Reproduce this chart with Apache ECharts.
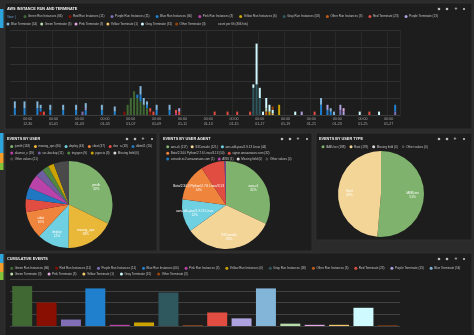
<!DOCTYPE html>
<html><head><meta charset="utf-8">
<script src="https://cdn.jsdelivr.net/npm/echarts@6/dist/echarts.min.js"></script>
<style>html,body{margin:0;padding:0;background:#2b2b2b;}#c{width:474px;height:335px;}</style>
</head><body><div id="c"></div><script>
// ---------------- DATA ----------------
const seriesNames = ['Green Run Instances','Red Run Instances','Purple Run Instances','Blue Run Instances','Pink Run Instances','Yellow Run Instances','Gray Run Instances','Other Run Instances','Red Terminate','Purple Terminate','Blue Terminate','Green Terminate','Pink Terminate','Yellow Terminate','Gray Terminate','Other Terminate'];
const seriesHits = [66,11,11,60,3,6,58,3,23,13,54,3,3,1,31,3];
const totalHits = 366;
const bucketHours = 6;
const bucketCount = 121;
const startTime = '2014-12-28T18:00:00Z';
// histogram counts per 6h bucket: [bucketIndex, count]
const greenRun = [[36,6],[37,10],[38,14],[39,10],[40,8],[41,6],[42,4]];
const redRun = [[9,2],[35,2],[43,2]];
const purpleRun = [[22,2],[102,3],[119,2]];
const blueRun = [[1,4],[4,4],[8,4],[9,2],[12,3],[16,3],[20,3],[23,3],[28,3],[32,2],[39,2],[40,4],[42,2],[45,3],[49,3],[96,6],[98,3],[99,2],[119,4]];
const pinkRun = [[51,1]];
const yellowRun = [[80,2],[83,6]];
const grayRun = [[75,16],[76,18],[77,10]];
const otherRun = [[79,2]];
const redTerm = [[10,2],[43,2],[44,2],[51,2],[52,2],[63,2],[67,2],[70,2],[74,2],[94,2],[111,2]];
const purpleTerm = [[23,1],[52,2],[90,2],[98,3],[102,3],[103,2]];
const blueTerm = [[1,4],[4,4],[8,4],[9,2],[12,3],[16,3],[20,3],[23,3],[28,3],[32,3],[40,5],[41,4],[42,2],[45,3],[49,3],[96,4],[99,2],[100,2]];
const greenTerm = [[79,2]];
const pinkTerm = [[103,2]];
const yellowTerm = [[81,1]];
const grayTerm = [[75,2],[76,24],[77,6],[78,2],[79,6],[80,4],[81,2],[88,2],[108,2],[114,2]];
const otherTerm = [[81,2]];
const histData = [greenRun,redRun,purpleRun,blueRun,pinkRun,yellowRun,grayRun,otherRun,redTerm,purpleTerm,blueTerm,greenTerm,pinkTerm,yellowTerm,grayTerm,otherTerm];
// cumulative events (bottom panel)
const cumulative = [68,40,11,64,2,6,57,1,23,13,64,4,2,2,31,1];
// pies
const userNames = ['jsmith','mwang_ops','deploy','cibot','rlee_a','dkim01','akumar_x','svc-backup','tnguyen','pgarcia','Missing field','Other values'];
const userCounts = [118,66,43,37,18,16,19,11,9,8,0,21];
const agentNames = ['aws-cli','S3Console','aws-sdk-java/1.9.13 Linux','Boto/2.34.0 Python/2.7.6 Linux/3.13','signin.amazonaws.com','console.ec2.amazonaws.com','AWS','Missing field','Other values'];
const agentCounts = [117,121,44,50,32,1,1,0,0];
const typeNames = ['IAMUser','Root','Missing field','Other values'];
const typeCounts = [188,178,0,0];

// ---------------- STYLE ----------------
const seriesColors = ['#3F6833','#890F02','#806EB7','#2080CE','#BA43A9','#CCA300','#2F575E','#C15C17','#E24D42','#AEA2E0','#82B5D8','#B7DBAB','#E5A8E2','#F2C96D','#CFFAFF','#99440A'];
const pie1Colors = ['#7EB26D','#EAB839','#6ED0E0','#EF843C','#E24D42','#1F78C1','#BA43A9','#705DA0','#508642','#CCA300','#D8D8D8','#4A4A4A'];
const pie2Colors = ['#7EB26D','#F4D598','#6ED0E0','#EF843C','#E24D42','#1F78C1','#BA43A9','#D8D8D8','#4A4A4A'];
const pie3Colors = ['#7EB26D','#F4D598','#D8D8D8','#4A4A4A'];
const FONT = 'Liberation Sans, Arial, sans-serif';
const panelFill = '#1d1d1d', panelStroke = '#343434';

// ---------------- BUILD ----------------
const pad = n => String(n).padStart(2,'0');
const categories = [];
for (let i = 0; i < bucketCount; i++) {
  const d = new Date(Date.parse(startTime) + i * bucketHours * 3600e3);
  categories.push(pad(d.getUTCMonth()+1) + '-' + pad(d.getUTCDate()) + ' ' + pad(d.getUTCHours()) + ':00');
}
const isTick = (idx) => categories[idx].slice(6) === '00:00' && (idx - 5) % 8 === 0;
function dense(pairs) { const a = new Array(bucketCount).fill(0); pairs.forEach(([i,v]) => { a[i] = v; }); return a; }

const hitMap = Object.fromEntries(seriesNames.map((n,i)=>[n,seriesHits[i]]));
function legendRow(names, left, top, fmt, gap) {
  return { show:true, left:left, top:top, data:names, orient:'horizontal', icon:'circle',
    itemWidth:3, itemHeight:3, itemGap:gap, padding:0, selectedMode:false, formatter:fmt,
    textStyle:{fontSize:3, color:'#c4c4c4', fontFamily:FONT, padding:[0,0,0,-3.5]} };
}
const seriesFmt = n => n + ' (' + hitMap[n] + ')';
function mapFmt(names, counts) { const m = Object.fromEntries(names.map((n,i)=>[n,counts[i]])); return n => n + ' (' + m[n] + ')'; }

function pieSeries(names, counts, colors, cx, cy, r) {
  const data = names.map((n,i)=>({name:n, value:counts[i], itemStyle:{color:colors[i]}}));
  return [
    { type:'pie', center:[cx,cy], radius:r, startAngle:90, clockwise:true, data:data,
      label:{show:false}, labelLine:{show:false}, silent:true, percentPrecision:2 },
    { type:'pie', center:[cx,cy], radius:r*4/3, startAngle:90, clockwise:true, silent:true,
      data:names.map((n,i)=>({name:n, value:counts[i]})),
      itemStyle:{color:'rgba(0,0,0,0)'}, labelLine:{show:false},
      label:{show:true, position:'inside', color:'#ffffff', fontSize:3.2, lineHeight:4, fontFamily:FONT,
        formatter: p => p.percent >= 10 ? p.name + '\n' + Math.round(p.percent) + '%' : ''} }
  ];
}

const histSeries = histData.map((pairs,i)=>({
  type:'bar', name:seriesNames[i], stack:'hist', xAxisIndex:0, yAxisIndex:0,
  data:dense(pairs), barWidth:2, itemStyle:{color:seriesColors[i]}, silent:true
}));
const cumSeries = { type:'bar', name:'Cumulative Events', xAxisIndex:1, yAxisIndex:1, barWidth:'82%', silent:true,
  data:cumulative.map((v,i)=>({value:v, itemStyle:{color:seriesColors[i]}})) };

// graphic: panels, strips, titles, icons
const g = [];
function panel(x,y,w,h){ g.push({type:'rect', z:-10, shape:{x,y,width:w,height:h}, style:{fill:panelFill, stroke:panelStroke, lineWidth:0.8}}); }
panel(5,3,467,126); panel(5,133,152,118); panel(159,133,153,118); panel(316,133,156,107); panel(5,253,467,84);
function strip(y,h,c){ g.push({type:'rect', z:-9, shape:{x:0,y,width:3.5,height:h}, style:{fill:c}}); }
strip(9,19,'#2da4dc');
strip(133,20,'#2da4dc'); strip(153,10,'#f39c2b'); strip(163,7,'#84c13a');
strip(254,9,'#2da4dc'); strip(263,9,'#f39c2b'); strip(272,8,'#84c13a');
function title(x,y,t){ g.push({type:'text', z:5, x, y, style:{text:t, fill:'#f0f0f0', font:'bold 3.8px '+FONT, textVerticalAlign:'middle'}}); }
title(7,9,'AWS INSTANCE RUN AND TERMINATE'); title(7,139,'EVENTS BY USER'); title(163,139,'EVENTS BY USER AGENT');
title(319,139,'EVENTS BY USER TYPE'); title(7,259,'CUMULATIVE EVENTS');
function icons(xs,y){
  g.push({type:'circle', z:5, shape:{cx:xs[0],cy:y,r:1.3}, style:{fill:'#bdbdbd'}});
  g.push({type:'circle', z:5, shape:{cx:xs[1],cy:y,r:1.3}, style:{fill:'#bdbdbd'}});
  g.push({type:'text', z:5, x:xs[2], y:y, style:{text:'+', fill:'#cfcfcf', font:'bold 5px '+FONT, textAlign:'center', textVerticalAlign:'middle'}});
  g.push({type:'circle', z:5, shape:{cx:xs[3],cy:y,r:1}, style:{fill:'#cfcfcf'}});
}
icons([439,447,456,464],9); icons([127,135,143,152],139); icons([282,290,298,307],139);
icons([439,447,455,464],139); icons([439,447,456,464],259);
g.push({type:'text', z:5, x:7, y:16.7, style:{text:'View  |', fill:'#6aa8dc', font:'3px '+FONT, textVerticalAlign:'middle'}});
g.push({type:'text', z:5, x:218, y:24, style:{text:'count per ' + bucketHours + 'h (' + totalHits + ' hits)', fill:'#c4c4c4', font:'3px '+FONT, textVerticalAlign:'middle'}});

const option = {
  backgroundColor:'#2b2b2b', animation:false,
  graphic:{elements:g},
  grid:[
    {left:10, right:74, top:30, height:85, containLabel:false},
    {left:10, right:74, top:279, height:47, containLabel:false}
  ],
  xAxis:[
    {type:'category', gridIndex:0, data:categories, boundaryGap:true,
      axisTick:{show:false}, axisLine:{lineStyle:{color:'#3c3c3c', width:0.8}},
      axisLabel:{interval:isTick, formatter:v => '00:00\n' + v.slice(0,5), fontSize:3.6, lineHeight:5, color:'#a8a8a8', margin:1.5, fontFamily:FONT},
      splitLine:{show:true, interval:isTick, lineStyle:{color:'#2c2c2c', width:0.8}}},
    {type:'category', gridIndex:1, data:seriesNames, axisTick:{show:false}, axisLabel:{show:false},
      axisLine:{show:false}}
  ],
  yAxis:[
    {type:'value', gridIndex:0, min:0, max:50, interval:10, axisLabel:{show:false}, axisLine:{show:false}, axisTick:{show:false},
      splitLine:{lineStyle:{color:'#363636', width:0.8}}},
    {type:'value', gridIndex:1, min:0, max:80, interval:20, axisLabel:{show:false}, axisLine:{show:false}, axisTick:{show:false},
      splitLine:{lineStyle:{color:'#4a4a4a', width:0.8}}}
  ],
  legend:[
    legendRow(seriesNames.slice(0,10), 23.5, 15.1, seriesFmt, 6.0),
    legendRow(seriesNames.slice(10), 6.5, 22.4, seriesFmt, 3.0),
    legendRow(seriesNames.slice(0,11), 10.2, 266.7, seriesFmt, 5.9),
    legendRow(seriesNames.slice(11), 10.2, 272.4, seriesFmt, 6.0),
    legendRow(userNames.slice(0,6), 10.2, 145, mapFmt(userNames,userCounts), 3.8),
    legendRow(userNames.slice(6,11), 10.2, 151.5, mapFmt(userNames,userCounts), 3.8),
    legendRow(userNames.slice(11), 10.2, 157.5, mapFmt(userNames,userCounts), 3.8),
    legendRow(agentNames.slice(0,3), 166.2, 145.2, mapFmt(agentNames,agentCounts), 3.2),
    legendRow(agentNames.slice(3,5), 166.2, 151.8, mapFmt(agentNames,agentCounts), 3.2),
    legendRow(agentNames.slice(5), 166.2, 157.5, mapFmt(agentNames,agentCounts), 3.2),
    legendRow(typeNames, 321.5, 145.2, mapFmt(typeNames,typeCounts), 4.0)
  ],
  series:[].concat(histSeries, [cumSeries],
    pieSeries(userNames, userCounts, pie1Colors, 69, 204.5, 43.5),
    pieSeries(agentNames, agentCounts, pie2Colors, 226, 205, 44),
    pieSeries(typeNames, typeCounts, pie3Colors, 381, 194, 43))
};
const chart = echarts.init(document.getElementById('c'), null, {renderer:'canvas'});
chart.setOption(option);
</script></body></html>
